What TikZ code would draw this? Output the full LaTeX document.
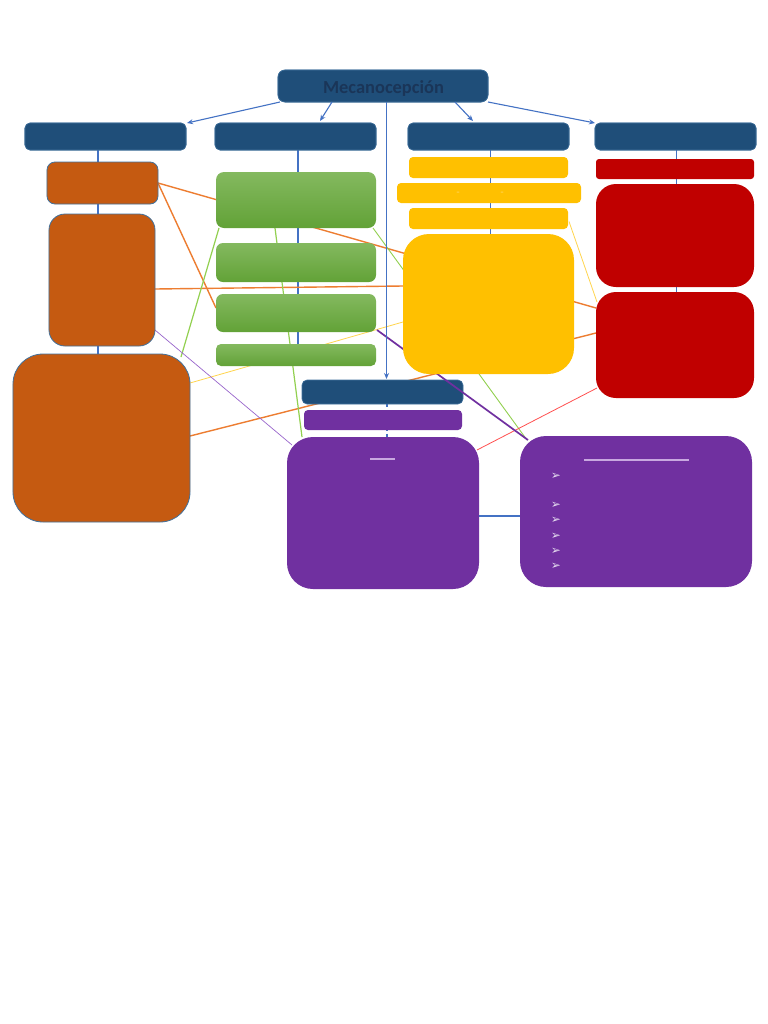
\documentclass[tikz,border=0pt]{standalone}
\usepackage{fontspec}
\setmainfont{Carlito}
\newfontfamily\dejavu{DejaVu Sans}
\usetikzlibrary{calc,arrows.meta}
\definecolor{navy}{HTML}{1F4E79}
\definecolor{navyedge}{HTML}{41719C}
\definecolor{titletext}{HTML}{1A3558}
\definecolor{burnt}{HTML}{C55A11}
\definecolor{gtop}{HTML}{84B95F}
\definecolor{gbot}{HTML}{62A237}
\definecolor{gold}{HTML}{FFC000}
\definecolor{crimson}{HTML}{C00000}
\definecolor{violet}{HTML}{7030A0}
\definecolor{linkblue}{HTML}{4472C4}
\definecolor{lorange}{HTML}{ED7D31}
\definecolor{lgreen}{HTML}{92D050}
\definecolor{lyellow}{HTML}{FFD54F}
\definecolor{lpurple}{HTML}{9966CC}
\definecolor{lred}{HTML}{FF5050}
\definecolor{ulpurple}{HTML}{C8A8E0}
\definecolor{bullet}{HTML}{E6DDF0}
\tikzset{
  bx/.style={inner sep=0pt,outer sep=0pt,rectangle},
  navybox/.style={bx,fill=navy,draw=navyedge,line width=0.6bp,rounded corners=5bp},
  orangebox/.style={bx,fill=burnt,draw=navyedge,line width=0.8bp},
  greenbox/.style={bx,top color=gtop,bottom color=gbot,rounded corners=7bp},
  goldbox/.style={bx,fill=gold},
  redbox/.style={bx,fill=crimson},
  purplebox/.style={bx,fill=violet},
  tree/.style={linkblue,line width=1.1bp},
  arr/.style={tree,-{Stealth[length=6bp,width=5bp]}},
  orangelink/.style={lorange,line width=1.4bp},
  greenlink/.style={lgreen,line width=1.2bp},
  yellowlink/.style={lyellow,line width=0.8bp},
  purplethin/.style={lpurple,line width=0.7bp},
  purplethick/.style={violet,line width=1.7bp},
  redlink/.style={lred,line width=0.8bp},
  bul/.style={inner sep=0pt,text=bullet,font=\dejavu\fontsize{12}{12}\selectfont},
}
\begin{document}
\begin{tikzpicture}[x=1bp,y=-1bp]
\useasboundingbox[fill=white] (0,0) rectangle (768,1024);

% ---- node frames (named) ----
\path
 node[navybox,rounded corners=7bp,minimum width=210bp,minimum height=32bp] (T) at (383,86) {}
 node[navybox,minimum width=161bp,minimum height=27bp] (A) at (105.5,136.5) {}
 node[navybox,minimum width=161bp,minimum height=27bp] (B) at (295.5,136.5) {}
 node[navybox,minimum width=161bp,minimum height=27bp] (C) at (488.5,136.5) {}
 node[navybox,minimum width=161bp,minimum height=27bp] (D) at (675.5,136.5) {}
 node[bx,minimum width=111bp,minimum height=42bp] (O1) at (102.5,183) {}
 node[bx,minimum width=106bp,minimum height=132bp] (O2) at (102,280) {}
 node[bx,minimum width=177bp,minimum height=168bp] (O3) at (101.5,438) {}
 node[bx,minimum width=160bp,minimum height=56bp] (G1) at (296,200) {}
 node[bx,minimum width=160bp,minimum height=39bp] (G2) at (296,262.5) {}
 node[bx,minimum width=160bp,minimum height=38bp] (G3) at (296,313) {}
 node[bx,minimum width=160bp,minimum height=22bp] (G4) at (296,355) {}
 node[bx,minimum width=159bp,minimum height=21bp] (Y1) at (488.5,167.5) {}
 node[bx,minimum width=184bp,minimum height=20bp] (Y2) at (489,193) {}
 node[bx,minimum width=159bp,minimum height=21bp] (Y3) at (488.5,218.5) {}
 node[bx,minimum width=171bp,minimum height=140bp] (Y4) at (488.5,304) {}
 node[bx,minimum width=158bp,minimum height=20bp] (R1) at (675,169) {}
 node[bx,minimum width=158bp,minimum height=103bp] (R2) at (675,235.5) {}
 node[bx,minimum width=158bp,minimum height=106bp] (R3) at (675,345) {}
 node[bx,minimum width=161bp,minimum height=24bp] (N) at (382.5,392) {}
 node[bx,minimum width=158bp,minimum height=20bp] (P1) at (383,420) {}
 node[bx,minimum width=192bp,minimum height=152bp] (P2) at (383,513) {}
 node[bx,minimum width=232bp,minimum height=151bp] (P3) at (636,511.5) {};

% ---- tree lines behind boxes ----
\draw[tree] ($(A.south)+(-7.5,0)$) coordinate (ta) -- (ta |- O3.north);
\draw[tree] ($(B.south)+(2.5,0)$) coordinate (tb) -- (tb |- G4.north);
\draw[tree,line width=0.8bp] ($(C.south)+(1.5,0)$) coordinate (tc) -- (tc |- Y4.north);
\draw[tree,line width=0.8bp] ($(D.south)+(0.5,0)$) coordinate (td) -- (td |- R3.north);
\draw[tree,dashed] ($(N.south)+(4.5,0)$) coordinate (tn) -- (tn |- P2.north);

% ---- cross links behind boxes ----
\draw[orangelink] (O1.east) -- ($(R3.west)+(0,-37)$);
\draw[orangelink] (O1.east) -- ($(G3.west)+(0,-5)$);
\draw[orangelink] ($(O2.east)+(0,9)$) -- ($(Y4.west)+(0,-18)$);
\draw[orangelink] ($(O3.east)+(0,-2)$) -- ($(R3.west)+(0,-12)$);
\draw[greenlink] ($(G1.south west)+(3,0)$) -- ($(O3.north east)+(-9,3)$);
\draw[greenlink] ($(G1.south)+(-21,0)$) -- ($(P2.north)+(-81,0)$);
\draw[greenlink,line width=0.9bp] ($(G1.south east)+(-3,0)$) -- ($(P3.north west)+(7,4)$);
\draw[yellowlink] ($(O3.east)+(0,-55)$) -- ($(Y4.west)+(0,18)$);
\draw[yellowlink] ($(Y3.east)+(1,3)$) -- ($(R3.west)+(1,-43)$);
\draw[purplethin] ($(O2.east)+(0,50)$) -- ($(P2.north west)+(5,8)$);
\draw[redlink] ($(R3.west)+(1,43)$) -- ($(P2.north east)+(-2,13)$);

% ---- boxes ----
\path[navybox,rounded corners=7bp] (T.north west) rectangle (T.south east);
\foreach \n in {A,B,C,D,N} {\path[navybox] (\n.north west) rectangle (\n.south east);}
\path[orangebox,rounded corners=8bp] (O1.north west) rectangle (O1.south east);
\path[orangebox,rounded corners=16bp] (O2.north west) rectangle (O2.south east);
\path[orangebox,rounded corners=30bp] (O3.north west) rectangle (O3.south east);
\path[greenbox,rounded corners=8bp] (G1.north west) rectangle (G1.south east);
\path[greenbox] (G2.north west) rectangle (G2.south east);
\path[greenbox] (G3.north west) rectangle (G3.south east);
\path[greenbox,rounded corners=5bp] (G4.north west) rectangle (G4.south east);
% thick purple link: over the navy box, under the gold box
\draw[purplethick] ($(G3.south east)+(1,-2)$) -- ($(P3.north west)+(8,4)$);
\foreach \n in {Y1,Y2,Y3} {\path[goldbox,rounded corners=4bp] (\n.north west) rectangle (\n.south east);}
\path[goldbox,rounded corners=26bp] (Y4.north west) rectangle (Y4.south east);
\path[redbox,rounded corners=3bp] (R1.north west) rectangle (R1.south east);
\path[redbox,rounded corners=20bp] (R2.north west) rectangle (R2.south east);
\path[redbox,rounded corners=20bp] (R3.north west) rectangle (R3.south east);
\path[purplebox,rounded corners=4bp] (P1.north west) rectangle (P1.south east);
\path[purplebox,rounded corners=26bp] (P2.north west) rectangle (P2.south east);
\path[purplebox,rounded corners=26bp] (P3.north west) rectangle (P3.south east);

% ---- link between the purple boxes ----
\draw[tree] ($(P2.east)+(0,3)$) coordinate (pe) -- (pe -| P3.west);

% ---- top arrows ----
\draw[arr] ($(T.south west)+(2,0)$) -- ($(A.north east)+(1,0)$);
\draw[arr] ($(T.south)+(-51,0)$) -- ($(B.north)+(24.5,-2)$);
\draw[arr] ($(T.south)+(72,0)$) -- ($(C.north)+(-15.5,-2)$);
\draw[arr] (T.south east) -- (D.north west);
\draw[arr] ($(T.south)+(3.5,0)$) coordinate (tt) -- ($(tt |- N.north)+(0,-1)$);

% ---- texts ----
\node[text=titletext,font=\bfseries\fontsize{18.5}{20}\selectfont,inner sep=0pt] (title) at (383.5,88) {Mecanocepción};
\node[text=white,opacity=0.7,font=\fontsize{7}{7}\selectfont,inner sep=0pt] (d1) at ($(Y2.center)+(-31,0)$) {–};
\node[text=white,opacity=0.7,font=\fontsize{7}{7}\selectfont,inner sep=0pt] (d2) at ($(Y2.center)+(13,0)$) {–};
\draw[ulpurple,line width=1.2bp] ($(P2.north)+(-13,22)$) coordinate (u1) -- ($(u1)+(25,0)$);
\draw[ulpurple,line width=1.2bp] ($(P3.north west)+(64,24)$) coordinate (u2) -- ($(u2)+(105,0)$);
\node[bul] (b1) at (556,476.5) {➢};
\node[bul] (b2) at (556,505.5) {➢};
\node[bul] (b3) at (556,520.5) {➢};
\node[bul] (b4) at (556,536) {➢};
\node[bul] (b5) at (556,551) {➢};
\node[bul] (b6) at (556,566) {➢};
\end{tikzpicture}
\end{document}
